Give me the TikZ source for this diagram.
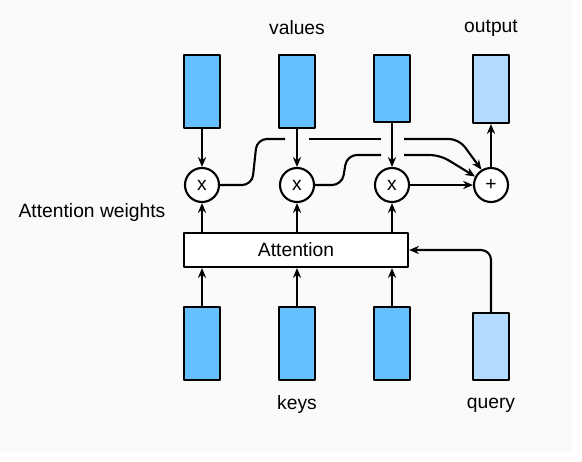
\documentclass[tikz,border=0pt]{standalone}
\usepackage{fontspec}
\setmainfont{Liberation Sans}
\usetikzlibrary{arrows.meta}
\definecolor{vecblue}{HTML}{66BFFF}
\definecolor{qblue}{HTML}{B3DAFF}
\definecolor{bggray}{HTML}{FAFAFA}
\begin{document}
\begin{tikzpicture}[x=0.025cm, y=-0.025cm, font=\fontsize{13.7}{16}\selectfont,
	line width=1.5pt, line join=round, >={Stealth[length=7pt,width=5.8pt]},
	vec/.style={draw, fill=vecblue, minimum width=0.9cm, minimum height=1.825cm, inner sep=0pt},
	qvec/.style={vec, fill=qblue},
	op/.style={draw, circle, fill=white, minimum size=0.85cm, inner sep=0pt}]
	\useasboundingbox (0,0) rectangle (582,461);
	\fill[bggray] (0,0) rectangle (572,452);
	% values and output
	\node[vec] (v1) at (202,91.5) {};
	\node[vec] (v2) at (297,91.5) {};
	\node[vec, minimum height=1.675cm] (v3) at (392,88.5) {};
	\node[qvec, minimum height=1.7cm] (out) at (491,89) {};
	% keys and query
	\node[vec] (k1) at (202,343.5) {};
	\node[vec] (k2) at (297,343.5) {};
	\node[vec] (k3) at (392,343.5) {};
	\node[qvec, minimum height=1.675cm] (q) at (491,346.5) {};
	% products and sum
	\node[op] (m1) at (202,185) {x};
	\node[op] (m2) at (297,185) {x};
	\node[op] (m3) at (392,185) {x};
	\node[op] (sum) at (491,185) {+};
	\node[draw, fill=white, minimum width=5.6cm, minimum height=0.85cm, inner sep=0pt] (att) at (296,250) {Attention};
	% labels
	\path
	(297,28) node (lval) {values}
	(491,28) node (lout) {output}
	(297,405) node (lkey) {keys}
	(491,405) node (lq) {query}
	(92,213) node (lw) {Attention weights}
	;
	\foreach \i in {1,2,3}{
		\draw[->] (v\i) -- (m\i);
		\draw[->] (att.north -| m\i) -- (m\i);
		\draw[->] (k\i) -- (att.south -| k\i);
	}
	\draw[->] (sum) -- (out);
	\draw[->, rounded corners=7pt] (q) |- (att.east);
	% weighted values to the sum, broken where they pass the value arrows
	\coordinate (a1) at (285,139);
	\coordinate (a2) at (309,139);
	\coordinate (a3) at (381,139);
	\coordinate (a4) at (404,139);
	\coordinate (b1) at (381,155);
	\coordinate (b2) at (404,155);
	\draw[rounded corners=7pt] (m1.east) -- (252,185) -- (257,139) -- (a1);
	\draw (a2) -- (a3);
	\draw[->, rounded corners=7pt] (a4) -- (459,139) -- (sum.122);
	\draw[rounded corners=7pt] (m2.east) -- (342,185) -- (347,155) -- (b1);
	\draw[->, rounded corners=7pt] (b2) -- (440,155) -- (sum.152);
	\draw[->] (m3) -- (sum);
\end{tikzpicture}
\end{document}
